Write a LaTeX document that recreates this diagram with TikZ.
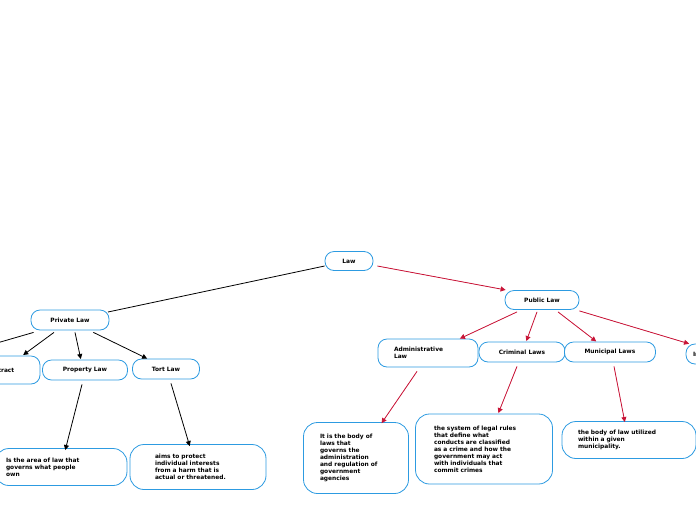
\documentclass[tikz,border=0pt]{standalone}
\usepackage{fontspec}
\setmainfont{DejaVu Sans}
\usetikzlibrary{arrows.meta}
\definecolor{bb}{RGB}{45,155,225}
\definecolor{rr}{RGB}{200,20,55}
\tikzset{
 box/.style={draw=bb,line width=0.8pt,rounded corners=9pt,fill=white,font=\fontsize{5.9}{7}\selectfont\bfseries,inner sep=0pt},
 desc/.style={box,rounded corners=14pt,align=left},
 bl/.style={draw=black,line width=0.8pt,-{Triangle[length=5pt,width=5pt]},shorten >=1pt},
 rd/.style={bl,draw=rr,fill=rr},
}
\begin{document}
\begin{tikzpicture}[x=1pt,y=-1pt]
\useasboundingbox (0,0) rectangle (696,520);
\begin{scope}
\clip (0,0) rectangle (696,520);
\node[box,minimum width=48pt,minimum height=19pt] (law) at (349,261) {Law};
\node[box,minimum width=74pt,minimum height=19pt] (pub) at (542,300) {Public Law};
\node[box,minimum width=78pt,minimum height=20pt] (pri) at (70,320) {Private Law};
\node[box,minimum width=80pt,minimum height=28pt,text width=70pt,align=center] (con) at (0,370) {Contract\\[8pt]};
\node[box,minimum width=85pt,minimum height=20pt] (pro) at (85,370) {Property Law};
\node[box,minimum width=67pt,minimum height=20pt] (tor) at (166,369) {Tort Law};
\node[desc,minimum width=132pt,minimum height=37pt,text width=110pt] (prod) at (61,467) {Is the area of law that\\governs what people\\own};
\node[desc,minimum width=136pt,minimum height=45pt,text width=86pt] (tord) at (198,467) {aims to protect\\individual interests\\from a harm that is\\actual or threatened.};
\node[box,minimum width=100pt,minimum height=28pt,text width=68pt,align=left] (adm) at (428,353) {Administrative\\Law};
\node[box,minimum width=86pt,minimum height=20pt] (cri) at (522,352) {Criminal Laws};
\node[box,minimum width=91pt,minimum height=20pt] (mun) at (610,352) {Municipal Laws};
\node[box,minimum width=80pt,minimum height=20pt,text width=66pt,align=left] (int) at (726,354) {International Law};
\node[desc,minimum width=105pt,minimum height=71pt,text width=72pt] (admd) at (356,458) {It is the body of\\laws that\\governs the\\administration\\and regulation of\\government\\agencies};
\node[desc,minimum width=137pt,minimum height=70pt,text width=100pt] (crid) at (484,449) {the system of legal rules\\that define what\\conducts are classified\\as a crime and how the\\government may act\\with individuals that\\commit crimes};
\node[desc,minimum width=134pt,minimum height=37pt,text width=102pt] (mund) at (629,440) {the body of law utilized\\within a given\\municipality.\\[4pt]};

\draw[line width=0.8pt] ([yshift=-5pt]law.west) -- (108,312);
\draw[rd] ([xshift=4pt,yshift=-5pt]law.east) -- ([xshift=2pt]pub.north west);
\draw[line width=0.8pt] ([xshift=3pt,yshift=-2pt]pri.south west) -- (-10,345);
\draw[bl] ([xshift=-16pt,yshift=-2pt]pri.south) -- ([xshift=-18pt]con.north east);
\draw[bl] ([xshift=5pt,yshift=-2pt]pri.south) -- (81,360);
\draw[bl] ([xshift=-16pt,yshift=-2pt]pri.south east) -- (148,359);
\draw[bl] ([xshift=-3pt,yshift=-4pt]pro.south) -- (65,451);
\draw[bl] ([xshift=5pt,yshift=-4pt]tor.south) -- (190,447);
\draw[rd] ([xshift=-25pt,yshift=-2pt]pub.south) -- (459,339);
\draw[rd] ([xshift=-5pt,yshift=-2pt]pub.south) -- (526,342);
\draw[rd] ([xshift=16pt,yshift=-2pt]pub.south) -- (597,342);
\draw[rd] ([yshift=-1pt]pub.south east) -- (690,344);
\draw[rd] ([xshift=-11pt,yshift=-4pt]adm.south) -- (381,424);
\draw[rd] ([xshift=-5pt,yshift=-4pt]cri.south) -- (498,414);
\draw[rd] ([xshift=4pt,yshift=-4pt]mun.south) -- (625,423);
\end{scope}
\end{tikzpicture}
\end{document}
